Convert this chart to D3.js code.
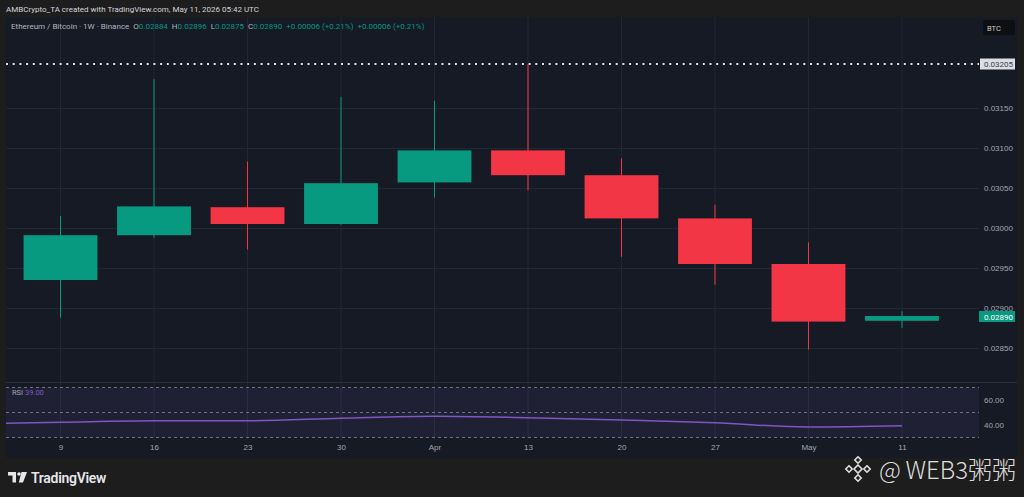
<!DOCTYPE html>
<html lang="en">
<head>
    <meta charset="UTF-8">
    <title>Ethereum / Bitcoin 1W (D3.js)</title>
    <script src="https://d3js.org/d3.v7.min.js"></script>
    <style>
        html, body {
            margin: 0;
            padding: 0;
            background: #1d1d1e;
        }
        svg {
            display: block;
            font-family: Roboto, "Noto Sans", sans-serif;
        }
        .axis text {
            fill: #a3a6af;
            font-size: 8px;
        }
        .axis .domain {
            display: none;
        }
        .pre {
            white-space: pre;
        }
    </style>
</head>
<body>
    <svg width="1024" height="497"></svg>

    <script>
        // weekly candles, ETH/BTC on Binance
        const dates = ["2026-03-09", "2026-03-16", "2026-03-23", "2026-03-30", "2026-04-06",
                       "2026-04-13", "2026-04-20", "2026-04-27", "2026-05-04", "2026-05-11"];
        const opens  = [0.02935, 0.02991, 0.03026, 0.03005, 0.03057, 0.03097, 0.03066, 0.03012, 0.02955, 0.02884];
        const highs  = [0.03015, 0.03186, 0.03083, 0.03164, 0.03159, 0.03205, 0.03087, 0.03029, 0.02982, 0.02896];
        const lows   = [0.02888, 0.02988, 0.02973, 0.03004, 0.03038, 0.03047, 0.02964, 0.02929, 0.02848, 0.02875];
        const closes = [0.02991, 0.03027, 0.03005, 0.03056, 0.03097, 0.03066, 0.03012, 0.02955, 0.02883, 0.02890];
        const timeLabels = ["9", "16", "23", "30", "Apr", "13", "20", "27", "May", "11"];

        const priceTicks = [0.02850, 0.02900, 0.02950, 0.03000, 0.03050, 0.03100, 0.03150];
        const rangeHigh = 0.03205;
        const lastPrice = 0.02890;

        // RSI(14), first point is the week before the visible range
        const rsiDates  = ["2026-03-02", ...dates];
        const rsiValues = [40.8, 42.2, 43.4, 43.4, 45.4, 47.0, 45.8, 44.0, 41.8, 38.4, 39.4];
        const rsiTicks = [40, 60];
        const rsiBands = [30, 50, 70];

        const up = "#089981", down = "#f23645";
        const plotL = 6, plotR = 979, panelTop = 17, panelBot = 458;
        const priceBot = 382, rsiBot = 440;

        const parse = d3.utcParse("%Y-%m-%d");
        const candles = dates.map((d, i) => ({
            date: parse(d), o: opens[i], h: highs[i], l: lows[i], c: closes[i]
        }));

        const svg = d3.select("svg");

        const x = d3.scaleUtc()
                    .domain([parse(dates[0]), parse(dates[dates.length - 1])])
                    .range([60.5, 902]);
        const y = d3.scaleLinear().domain([0.0285, 0.0320]).range([348, 68]);
        const yRsi = d3.scaleLinear().domain([30, 70]).range([437.5, 387.5]);

        const step = x(candles[1].date) - x(candles[0].date);
        const bodyW = step * 0.79;

        // panel
        svg.append("rect")
           .attr("x", plotL).attr("y", panelTop)
           .attr("width", 1017 - plotL).attr("height", panelBot - panelTop)
           .attr("fill", "#161a25");

        const defs = svg.append("defs");
        defs.append("clipPath").attr("id", "clip-price")
            .append("rect").attr("x", plotL).attr("y", panelTop)
            .attr("width", plotR - plotL).attr("height", priceBot - panelTop);
        defs.append("clipPath").attr("id", "clip-rsi")
            .append("rect").attr("x", plotL).attr("y", priceBot)
            .attr("width", plotR - plotL).attr("height", rsiBot - priceBot);

        // grid
        svg.append("g")
           .selectAll("line")
           .data(priceTicks)
           .join("line")
           .attr("x1", plotL).attr("x2", plotR)
           .attr("y1", d => Math.round(y(d)) + 0.5).attr("y2", d => Math.round(y(d)) + 0.5)
           .attr("stroke", "#232734");

        svg.append("g")
           .selectAll("line")
           .data(candles)
           .join("line")
           .attr("x1", d => x(d.date)).attr("x2", d => x(d.date))
           .attr("y1", panelTop).attr("y2", rsiBot)
           .attr("stroke", "#232734");

        // pane separator
        svg.append("line")
           .attr("x1", plotL).attr("x2", 1017)
           .attr("y1", priceBot + 0.5).attr("y2", priceBot + 0.5)
           .attr("stroke", "#2a2e39");

        // range high dotted line
        svg.append("line")
           .attr("x1", plotL).attr("x2", plotR)
           .attr("y1", y(rangeHigh)).attr("y2", y(rangeHigh))
           .attr("stroke", "#e0e3eb")
           .attr("stroke-width", 2)
           .attr("stroke-dasharray", "2,4.7");

        // candles
        const cg = svg.append("g").attr("clip-path", "url(#clip-price)");

        cg.selectAll(".wick")
          .data(candles)
          .join("line")
          .attr("class", "wick")
          .attr("x1", d => x(d.date)).attr("x2", d => x(d.date))
          .attr("y1", d => y(d.h)).attr("y2", d => y(d.l))
          .attr("stroke", d => d.c >= d.o ? up : down)
          .attr("stroke-width", 1);

        cg.selectAll(".body")
          .data(candles)
          .join("rect")
          .attr("class", "body")
          .attr("x", d => x(d.date) - bodyW / 2)
          .attr("y", d => y(Math.max(d.o, d.c)))
          .attr("width", bodyW)
          .attr("height", d => Math.max(1, Math.abs(y(d.o) - y(d.c))))
          .attr("fill", d => d.c >= d.o ? up : down);

        // price axis
        svg.append("g")
           .attr("class", "axis")
           .attr("transform", `translate(984,0)`)
           .call(d3.axisRight(y).tickValues(priceTicks).tickFormat(d3.format(".5f")).tickSize(0).tickPadding(0));

        // range high label
        svg.append("rect")
           .attr("x", 980).attr("y", y(rangeHigh) - 5.5)
           .attr("width", 35).attr("height", 11)
           .attr("fill", "#dcdee3");
        svg.append("text")
           .attr("x", 984).attr("y", y(rangeHigh) + 3)
           .attr("font-size", 8).attr("fill", "#3a3d45")
           .text(d3.format(".5f")(rangeHigh));

        // last price label
        svg.append("rect")
           .attr("x", 979).attr("y", y(lastPrice) - 5)
           .attr("width", 36).attr("height", 11)
           .attr("fill", up);
        svg.append("text")
           .attr("x", 984).attr("y", y(lastPrice) + 3.5)
           .attr("font-size", 8).attr("fill", "#ffffff")
           .text(d3.format(".5f")(lastPrice));

        // BTC currency box
        svg.append("rect")
           .attr("x", 983).attr("y", 20)
           .attr("width", 32).attr("height", 15)
           .attr("rx", 2)
           .attr("fill", "#0e0f12");
        svg.append("text")
           .attr("x", 987).attr("y", 30.5)
           .attr("font-size", 7.5).attr("fill", "#c8cad0")
           .text("BTC");

        // RSI pane
        const rg = svg.append("g").attr("clip-path", "url(#clip-rsi)");
        rg.append("rect")
          .attr("x", plotL).attr("width", plotR - plotL)
          .attr("y", yRsi(70)).attr("height", yRsi(30) - yRsi(70))
          .attr("fill", "rgba(126, 87, 194, 0.1)");

        rg.selectAll(".band")
          .data(rsiBands)
          .join("line")
          .attr("class", "band")
          .attr("x1", plotL).attr("x2", plotR)
          .attr("y1", d => yRsi(d)).attr("y2", d => yRsi(d))
          .attr("stroke", "#6f7280")
          .attr("stroke-dasharray", "3,3");

        const rsiLine = d3.line()
                          .x((d, i) => x(parse(rsiDates[i])))
                          .y(d => yRsi(d))
                          .curve(d3.curveMonotoneX);

        rg.append("path")
          .datum(rsiValues)
          .attr("d", rsiLine)
          .attr("fill", "none")
          .attr("stroke", "#7e57c2")
          .attr("stroke-width", 1.5);

        svg.append("g")
           .attr("class", "axis")
           .attr("transform", `translate(984,0)`)
           .call(d3.axisRight(yRsi).tickValues(rsiTicks).tickFormat(d3.format(".2f")).tickSize(0).tickPadding(0));

        svg.append("text")
           .attr("class", "pre")
           .attr("x", 12).attr("y", 395)
           .attr("font-size", 7.5).attr("fill", "#a3a6af")
           .text("RSI ")
           .append("tspan")
           .attr("fill", "#7e57c2")
           .text("39.00");

        // time axis
        svg.append("g")
           .attr("class", "axis")
           .attr("transform", `translate(0,${rsiBot + 4})`)
           .call(d3.axisBottom(x).tickValues(candles.map(d => d.date))
                   .tickFormat((d, i) => timeLabels[i]).tickSize(0).tickPadding(0));

        // header
        svg.append("text")
           .attr("x", 6).attr("y", 12)
           .attr("font-size", 8).attr("fill", "#d1d4dc")
           .text("AMBCrypto_TA created with TradingView.com, May 11, 2026 05:42 UTC");

        const last = candles[candles.length - 1];
        const chg = last.c - last.o;
        const legend = svg.append("text")
                          .attr("class", "pre")
                          .attr("x", 11).attr("y", 29)
                          .attr("font-size", 8).attr("fill", "#b2b5be");
        legend.append("tspan").text("Ethereum / Bitcoin · 1W · Binance  O");
        legend.append("tspan").attr("fill", up).text(d3.format(".5f")(last.o));
        legend.append("tspan").text("  H");
        legend.append("tspan").attr("fill", up).text(d3.format(".5f")(last.h));
        legend.append("tspan").text("  L");
        legend.append("tspan").attr("fill", up).text(d3.format(".5f")(last.l));
        legend.append("tspan").text("  C");
        legend.append("tspan").attr("fill", up).text(d3.format(".5f")(last.c));
        const chgText = `+${d3.format(".5f")(chg)} (+${d3.format(".2f")(chg / last.o * 100)}%)`;
        legend.append("tspan").attr("fill", up).text("  " + chgText + "  " + chgText);

        // TradingView footer logo
        const logo = svg.append("g").attr("fill", "#e6e7ea");
        logo.append("rect").attr("x", 8).attr("y", 472).attr("width", 8).attr("height", 3.5);
        logo.append("rect").attr("x", 12.5).attr("y", 472).attr("width", 3.5).attr("height", 10.5);
        logo.append("circle").attr("cx", 19).attr("cy", 474).attr("r", 1.8);
        logo.append("path").attr("d", "M21.5,472 L27,472 L23,482.5 L18.8,482.5 Z");
        svg.append("text")
           .attr("x", 31).attr("y", 482.5)
           .attr("font-size", 14).attr("font-weight", 600)
           .attr("fill", "#e6e7ea")
           .attr("letter-spacing", -0.3)
           .text("TradingView");

        // watermark
        const wm = svg.append("g")
                      .attr("fill", "none")
                      .attr("stroke", "rgba(245,245,245,0.9)")
                      .attr("stroke-width", 1.6);
        const dia = (cx, cy, r) => `M${cx},${cy - r} L${cx + r},${cy} L${cx},${cy + r} L${cx - r},${cy} Z`;
        wm.append("path").attr("d", dia(858, 469, 4));
        wm.append("path").attr("d", dia(858, 460, 3.2));
        wm.append("path").attr("d", dia(858, 478, 3.2));
        wm.append("path").attr("d", dia(849, 469, 3.2));
        wm.append("path").attr("d", dia(867, 469, 3.2));
        const wmText = svg.append("g")
                          .attr("font-family", "'Noto Sans CJK SC', 'Noto Sans', sans-serif")
                          .attr("font-size", 24).attr("font-weight", 300)
                          .attr("fill", "rgba(245,245,245,0.9)");
        wmText.append("text").attr("x", 879).attr("y", 479).text("@");
        wmText.append("text").attr("x", 1016).attr("y", 479)
              .attr("text-anchor", "end")
              .text("WEB3粥粥");
    </script>
</body>
</html>
